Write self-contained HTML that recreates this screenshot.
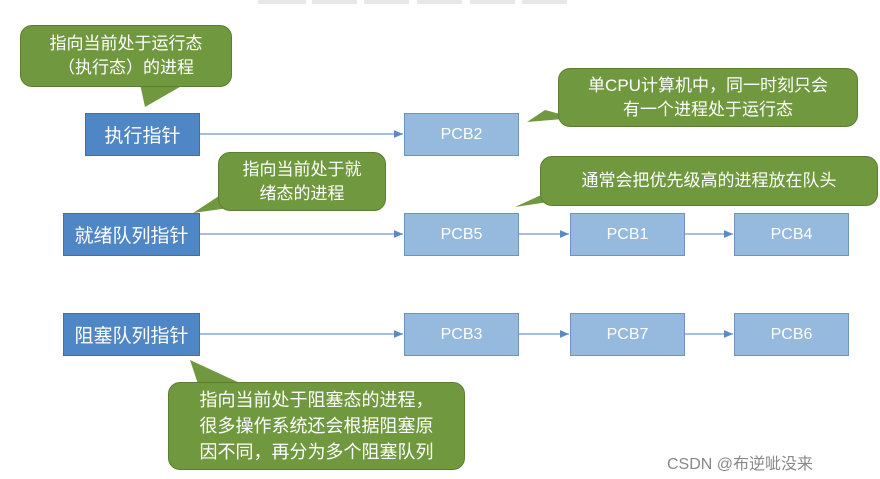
<!DOCTYPE html>
<html><head><meta charset="utf-8"><style>
body{margin:0;width:880px;height:479px;background:#fff;position:relative;overflow:hidden;font-family:"Liberation Sans","Noto Sans CJK SC",sans-serif}
.b{position:absolute;display:flex;align-items:center;justify-content:center;color:#fff;box-sizing:border-box}
.d{background:#4f86c6;border:1px solid #41709f;font-size:19px}
.p{background:#96b9de;border:1px solid #6f93bd;font-size:16px;width:115px;height:43px}
.g{background:#70993f;border:1.5px solid #5a7d33;border-radius:12px;font-size:17px;line-height:24px;text-align:center;color:#fff}
svg{position:absolute;left:0;top:0}
</style></head><body>
<svg width="880" height="479">
<defs><marker id="a" markerWidth="8" markerHeight="8" refX="7" refY="4" orient="auto"><path d="M0,1 L7,4 L0,7z" fill="#5b8bc4"/></marker></defs>
<g stroke="#6f9bd0" stroke-width="1.3" marker-end="url(#a)">
<line x1="200" y1="134" x2="403" y2="134"/>
<line x1="200" y1="234" x2="403" y2="234"/>
<line x1="518" y1="234" x2="569" y2="234"/>
<line x1="684" y1="234" x2="733" y2="234"/>
<line x1="200" y1="334" x2="403" y2="334"/>
<line x1="518" y1="334" x2="569" y2="334"/>
<line x1="684" y1="334" x2="733" y2="334"/>
</g>
<g fill="#70993f">
<path d="M140,84 L145,107 L185,84z"/>
<path d="M545,110 L527,122 L575,118z"/>
<path d="M225,192 L193,213 L250,205z"/>
<path d="M552,190 L515,207 L575,198z"/>
<path d="M200,390 L190,360 L255,390z"/>
</g>
<g fill="#e8e8e8"><rect x="258" y="0" width="48" height="4"/><rect x="312" y="0" width="45" height="4"/><rect x="364" y="0" width="45" height="4"/><rect x="417" y="0" width="45" height="4"/><rect x="470" y="0" width="45" height="4"/><rect x="522" y="0" width="45" height="4"/></g>
</svg>
<div class="b g" style="left:20px;top:25px;width:212px;height:62px">指向当前处于运行态<br>（执行态）的进程</div>
<div class="b g" style="left:558px;top:68px;width:300px;height:59px">单CPU计算机中，同一时刻只会<br>有一个进程处于运行态</div>
<div class="b g" style="left:218px;top:152px;width:168px;height:59px">指向当前处于就<br>绪态的进程</div>
<div class="b g" style="left:540px;top:156px;width:338px;height:50px">通常会把优先级高的进程放在队头</div>
<div class="b g" style="left:168px;top:382px;width:297px;height:88px;font-size:18px;line-height:26px;text-align:left">指向当前处于阻塞态的进程，<br>很多操作系统还会根据阻塞原<br>因不同，再分为多个阻塞队列</div>
<div class="b d" style="left:85px;top:113px;width:115px;height:43px">执行指针</div>
<div class="b d" style="left:63px;top:213px;width:137px;height:43px">就绪队列指针</div>
<div class="b d" style="left:63px;top:313px;width:137px;height:43px">阻塞队列指针</div>
<div class="b p" style="left:404px;top:113px">PCB2</div>
<div class="b p" style="left:404px;top:213px">PCB5</div>
<div class="b p" style="left:570px;top:213px">PCB1</div>
<div class="b p" style="left:734px;top:213px">PCB4</div>
<div class="b p" style="left:404px;top:313px">PCB3</div>
<div class="b p" style="left:570px;top:313px">PCB7</div>
<div class="b p" style="left:734px;top:313px">PCB6</div>
<div style="position:absolute;left:667px;top:450px;font-size:16px;color:#888">CSDN @布逆呲没来</div>
</body></html>
